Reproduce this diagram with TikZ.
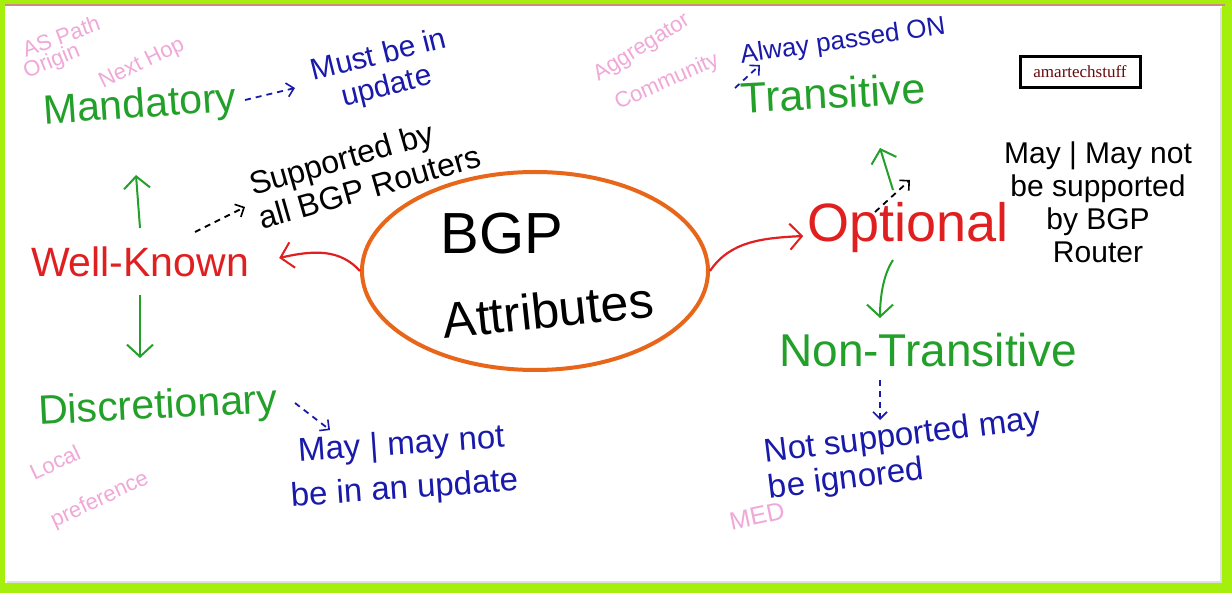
\documentclass[tikz,border=0pt]{standalone}
\usepackage{fontspec}
\setmainfont{Liberation Sans}
\newfontfamily\boxfont{Liberation Serif}
\usetikzlibrary{shapes.geometric,arrows.meta,calc}
\definecolor{limeframe}{HTML}{A4F00C}
\definecolor{pinkline}{HTML}{D08A80}
\definecolor{hgreen}{HTML}{23A02A}
\definecolor{hred}{HTML}{E02020}
\definecolor{hblue}{HTML}{1A1AAA}
\definecolor{hpink}{HTML}{F0A8D8}
\definecolor{horange}{HTML}{E8661A}
\definecolor{maroon}{HTML}{6B0A0A}
\begin{document}
\begin{tikzpicture}[x=1pt,y=-1pt,
  lbl/.style={inner sep=0pt, font=\fontsize{41}{45}\selectfont},
  glbl/.style={lbl, text=hgreen},
  rlbl/.style={lbl, text=hred},
  blbl/.style={inner sep=0pt, text=hblue, align=center},
  klbl/.style={inner sep=0pt, text=black, align=center},
  plbl/.style={inner sep=0pt, text=hpink, font=\fontsize{22}{24}\selectfont},
  bigtip/.style={-{Straight Barb[length=12pt,width=26pt,line width=2pt]}},
  smalltip/.style={-{Straight Barb[length=7pt,width=14pt,line width=1.6pt]}},
  garrow/.style={bigtip, draw=hgreen, line width=2pt},
  rarrow/.style={bigtip, draw=hred, line width=2.2pt},
  dasharrow/.style={smalltip, line width=1.8pt, dash pattern=on 6pt off 5pt}
]
\useasboundingbox (0,0) rectangle (1232,593);
\fill[limeframe] (0,0) rectangle (1232,593);
\fill[white] (5,6) rectangle (1222,583);
\draw[gray!25, line width=2pt] (1221,8) -- (1221,582) -- (7,582);
\draw[pinkline, line width=2pt] (5,5) -- (1225,5);

% centre
\node[ellipse, draw=horange, line width=4pt, minimum width=346pt, minimum height=198pt, inner sep=0pt] (bgp) at (535,271) {};
\node[klbl, font=\fontsize{58}{60}\selectfont] (bgptxt) at (502,234) {BGP};
\node[klbl, font=\fontsize{50}{52}\selectfont, rotate=6] (attr) at (548,310) {Attributes};

% left branch
\node[rlbl] (wk) at (140,262) {Well-Known};
\node[glbl, rotate=4] (mand) at (140,107) {Mandatory};
\node[glbl, rotate=3] (disc) at (158,408) {Discretionary};
\node[klbl, align=left, rotate=16, font=\fontsize{32}{35}\selectfont] (sup) at (365,170) {Supported by\\all BGP Routers};
\node[blbl, rotate=14, font=\fontsize{30}{32}\selectfont] (must) at (383,72) {Must be in\\update};
\node[blbl, rotate=4, font=\fontsize{33}{44}\selectfont] (maymay) at (403,468) {May | may not\\be in an update};
\node[plbl, rotate=20] (aspath) at (61,36) {AS Path};
\node[plbl, rotate=22] (origin) at (52,62) {Origin};
\node[plbl, rotate=26] (nexthop) at (142,64) {Next Hop};
\node[plbl, rotate=25] (local) at (55,462) {Local};
\node[plbl, rotate=25] (pref) at (100,500) {preference};

% right branch
\node[rlbl, font=\fontsize{54}{56}\selectfont] (opt) at (908,228) {Optional};
\node[glbl, rotate=3, font=\fontsize{43}{45}\selectfont] (trans) at (833,93) {Transitive};
\node[glbl, font=\fontsize{46}{48}\selectfont] (nontrans) at (928,350) {Non-Transitive};
\node[blbl, rotate=8, font=\fontsize{26}{28}\selectfont] (alway) at (843,42) {Alway passed ON};
\node[klbl, font=\fontsize{30}{33}\selectfont] (maysup) at (1098,202) {May | May not\\be supported\\by BGP\\Router};
\node[blbl, align=left, rotate=7, font=\fontsize{33}{36}\selectfont] (ignored) at (905,455) {Not supported may\\be ignored};
\node[plbl, rotate=32] (aggr) at (642,48) {Aggregator};
\node[plbl, rotate=24] (comm) at (667,82) {Community};
\node[plbl, rotate=12, font=\fontsize{25}{27}\selectfont] (med) at (757,516) {MED};
\node[draw=black, line width=3pt, minimum width=120pt, minimum height=31pt, inner sep=0pt, text=maroon, font=\boxfont\fontsize{17}{19}\selectfont] (brand) at (1080,72) {amartechstuff};

% connectors
\draw[rarrow] (bgp.west) .. controls +(-20,-22) and +(35,-8) .. ($(wk.east)+(30,-4)$);
\draw[rarrow] (bgp.east) .. controls +(20,-30) and +(-40,2) .. ($(opt.west)+(-4,8)$);
\draw[garrow] ($(wk)+(0,-34)$) -- ($(mand)+(-4,68)$);
\draw[garrow] ($(wk)+(0,33)$) -- ($(disc)+(-18,-50)$);
\draw[garrow] ($(opt)+(-15,-38)$) -- ($(trans)+(47,55)$);
\draw[garrow] ($(opt)+(-15,32)$) .. controls +(-10,15) and +(0,-20) .. ($(nontrans)+(-48,-32)$);
\draw[dasharrow, hblue] ($(nontrans)+(-48,30)$) -- ($(ignored)+(-25,-35)$);
\draw[dasharrow, black] ($(wk)+(55,-30)$) -- ($(sup)+(-120,37)$);
\draw[dasharrow, hblue] ($(mand)+(105,-7)$) -- ($(must)+(-88,16)$);
\draw[dasharrow, hblue] ($(disc)+(137,-5)$) -- ($(maymay)+(-73,-38)$);
\draw[dasharrow, black] ($(opt)+(-33,-16)$) -- ($(maysup)+(-188,-22)$);
\draw[dasharrow, hblue] ($(trans)+(-98,-5)$) -- ($(alway)+(-83,23)$);
\end{tikzpicture}
\end{document}
